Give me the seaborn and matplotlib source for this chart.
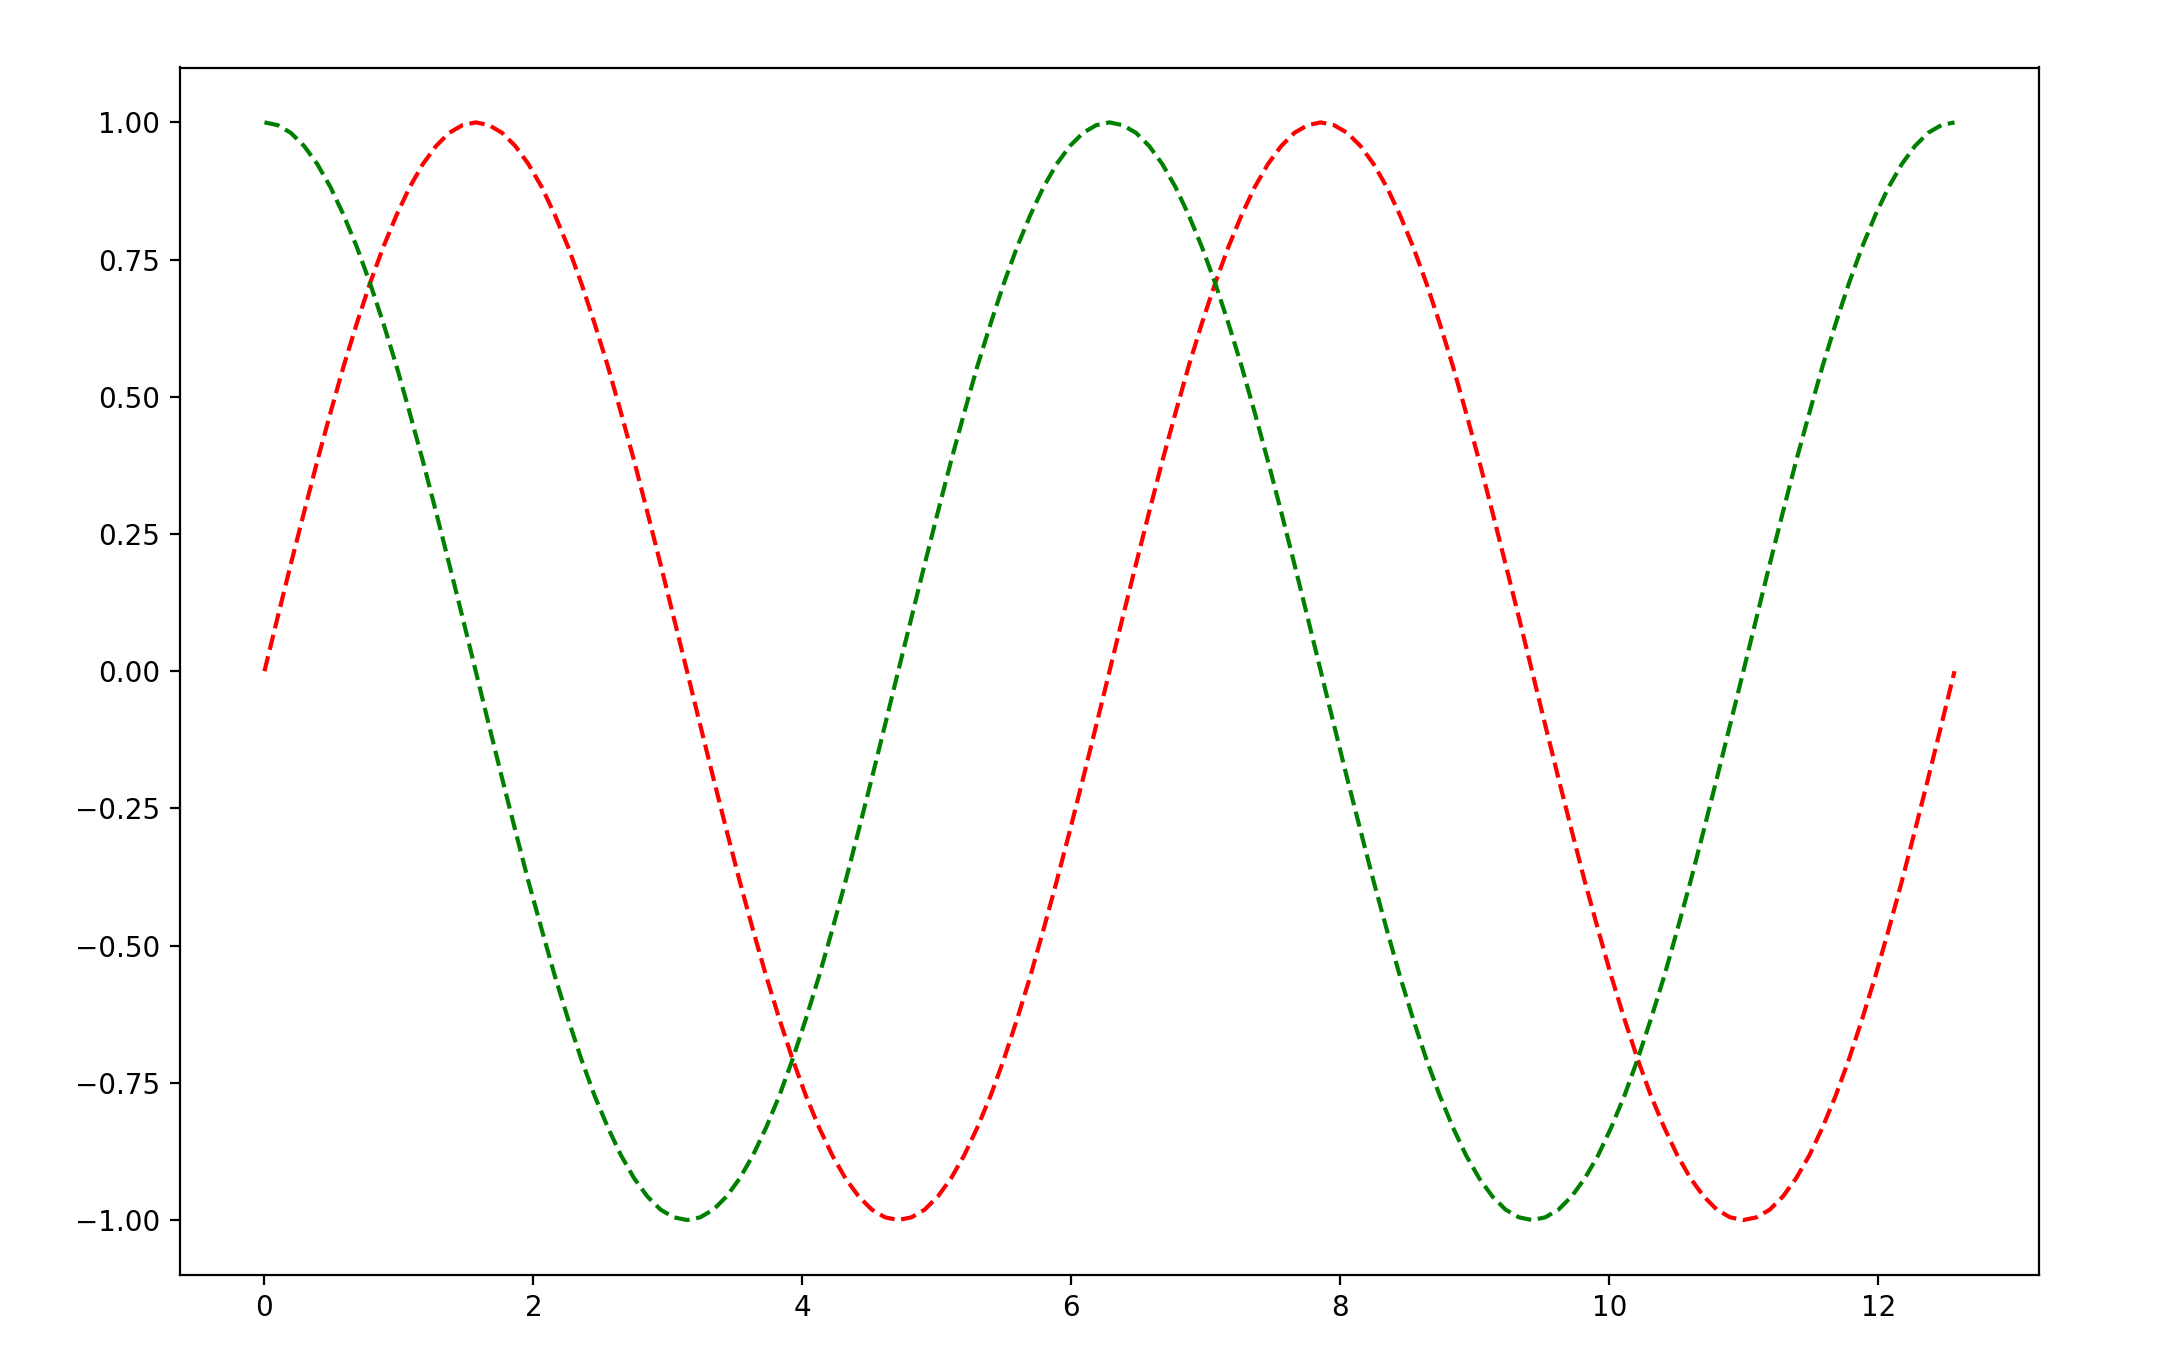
import matplotlib
matplotlib.use("Agg")
import matplotlib.pyplot as plt
import seaborn as sns
import pandas as pd

x_vals = [0.000, 0.098, 0.196, 0.295, 0.393, 0.491, 0.589, 0.687, 0.785, 0.884, 0.982, 1.080, 1.178,
          1.276, 1.374, 1.473, 1.571, 1.669, 1.767, 1.865, 1.963, 2.062, 2.160, 2.258, 2.356, 2.454,
          2.553, 2.651, 2.749, 2.847, 2.945, 3.043, 3.142, 3.240, 3.338, 3.436, 3.534, 3.632, 3.731,
          3.829, 3.927, 4.025, 4.123, 4.222, 4.320, 4.418, 4.516, 4.614, 4.712, 4.811, 4.909, 5.007,
          5.105, 5.203, 5.301, 5.400, 5.498, 5.596, 5.694, 5.792, 5.890, 5.989, 6.087, 6.185, 6.283,
          6.381, 6.480, 6.578, 6.676, 6.774, 6.872, 6.970, 7.069, 7.167, 7.265, 7.363, 7.461, 7.560,
          7.658, 7.756, 7.854, 7.952, 8.050, 8.149, 8.247, 8.345, 8.443, 8.541, 8.639, 8.738, 8.836,
          8.934, 9.032, 9.130, 9.228, 9.327, 9.425, 9.523, 9.621, 9.719, 9.817, 9.916, 10.014,
          10.112, 10.210, 10.308, 10.407, 10.505, 10.603, 10.701, 10.799, 10.897, 10.996, 11.094,
          11.192, 11.290, 11.388, 11.487, 11.585, 11.683, 11.781, 11.879, 11.977, 12.076, 12.174,
          12.272, 12.370, 12.468, 12.566]

red_vals = [
    0.000, 0.098, 0.195, 0.290, 0.383, 0.471, 0.556, 0.634, 0.707, 0.773, 0.831, 0.882, 0.924, 0.957, 0.981, 0.995,
    1.000, 0.995, 0.981, 0.957, 0.924, 0.882, 0.831, 0.773, 0.707, 0.634, 0.556, 0.471, 0.383, 0.290, 0.195, 0.098,
    0.000, -0.098, -0.195, -0.290, -0.383, -0.471, -0.556, -0.634, -0.707, -0.773, -0.831, -0.882, -0.924, -0.957, -0.981, -0.995,
    -1.000, -0.995, -0.981, -0.957, -0.924, -0.882, -0.831, -0.773, -0.707, -0.634, -0.556, -0.471, -0.383, -0.290, -0.195, -0.098,
    0.000, 0.098, 0.195, 0.290, 0.383, 0.471, 0.556, 0.634, 0.707, 0.773, 0.831, 0.882, 0.924, 0.957, 0.981, 0.995,
    1.000, 0.995, 0.981, 0.957, 0.924, 0.882, 0.831, 0.773, 0.707, 0.634, 0.556, 0.471, 0.383, 0.290, 0.195, 0.098,
    0.000, -0.098, -0.195, -0.290, -0.383, -0.471, -0.556, -0.634, -0.707, -0.773, -0.831, -0.882, -0.924, -0.957, -0.981, -0.995,
    -1.000, -0.995, -0.981, -0.957, -0.924, -0.882, -0.831, -0.773, -0.707, -0.634, -0.556, -0.471, -0.383, -0.290, -0.195, -0.098,
    0.000]

green_vals = [
    1.000, 0.995, 0.981, 0.957, 0.924, 0.882, 0.831, 0.773, 0.707, 0.634, 0.556, 0.471, 0.383, 0.290, 0.195, 0.098,
    0.000, -0.098, -0.195, -0.290, -0.383, -0.471, -0.556, -0.634, -0.707, -0.773, -0.831, -0.882, -0.924, -0.957, -0.981, -0.995,
    -1.000, -0.995, -0.981, -0.957, -0.924, -0.882, -0.831, -0.773, -0.707, -0.634, -0.556, -0.471, -0.383, -0.290, -0.195, -0.098,
    0.000, 0.098, 0.195, 0.290, 0.383, 0.471, 0.556, 0.634, 0.707, 0.773, 0.831, 0.882, 0.924, 0.957, 0.981, 0.995,
    1.000, 0.995, 0.981, 0.957, 0.924, 0.882, 0.831, 0.773, 0.707, 0.634, 0.556, 0.471, 0.383, 0.290, 0.195, 0.098,
    0.000, -0.098, -0.195, -0.290, -0.383, -0.471, -0.556, -0.634, -0.707, -0.773, -0.831, -0.882, -0.924, -0.957, -0.981, -0.995,
    -1.000, -0.995, -0.981, -0.957, -0.924, -0.882, -0.831, -0.773, -0.707, -0.634, -0.556, -0.471, -0.383, -0.290, -0.195, -0.098,
    0.000, 0.098, 0.195, 0.290, 0.383, 0.471, 0.556, 0.634, 0.707, 0.773, 0.831, 0.882, 0.924, 0.957, 0.981, 0.995,
    1.000]

df_red = pd.DataFrame({"x": x_vals, "y": red_vals})
df_green = pd.DataFrame({"x": x_vals, "y": green_vals})

fig, ax = plt.subplots(figsize=(10.8, 6.75), dpi=200)
fig.subplots_adjust(left=0.0833, right=0.944, bottom=0.0556, top=0.950)

sns.lineplot(data=df_red, x="x", y="y", ax=ax, color="red", linestyle="--",
             linewidth=1.5, estimator=None, sort=False)
sns.lineplot(data=df_green, x="x", y="y", ax=ax, color="green", linestyle="--",
             linewidth=1.5, estimator=None, sort=False)

ax.set_xlabel("")
ax.set_ylabel("")

fig.savefig("out.png", dpi=200)
